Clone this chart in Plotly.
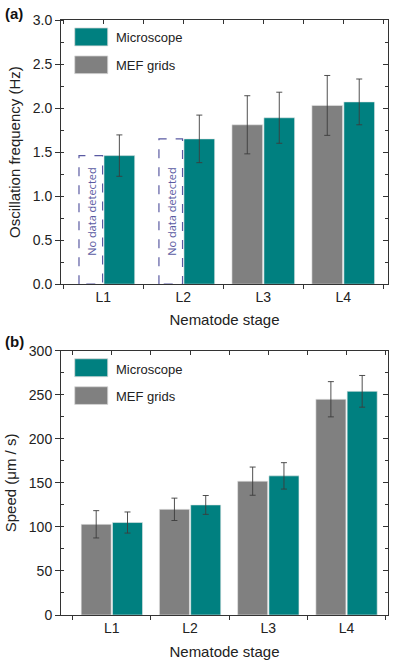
import plotly.graph_objects as go

stages = ["L1", "L2", "L3", "L4"]
xpos = [0, 1, 2, 3]

# Panel (a): oscillation frequency (Hz)
freq_micro = [1.46, 1.65, 1.89, 2.07]
freq_micro_err = [0.235, 0.27, 0.29, 0.26]
freq_mef = [None, None, 1.81, 2.03]
freq_mef_err = [0, 0, 0.33, 0.34]
nodata_height = [1.46, 1.65, None, None]
nodata_label = "No data detected"

# Panel (b): speed (um/s)
speed_micro = [105, 125, 158, 254]
speed_micro_err = [12, 10.7, 15, 18]
speed_mef = [103, 120, 152, 245]
speed_mef_err = [15.5, 12.7, 16, 20]

TEAL = "#008080"
GRAY = "#808080"
ERR = "#3c3c3c"
NODATA = "#5a5aa2"
FONT = "Liberation Sans, Arial, sans-serif"
AX = "#333333"

fig = go.Figure()

def add_bars(xa, ya, mef, mef_err, mic, mic_err):
    fig.add_trace(go.Bar(x=xpos, y=mef, name="MEF grids", marker=dict(color=GRAY, line=dict(color="#e8e8e8", width=0.6)),
                         error_y=dict(type="data", array=mef_err, color=ERR, thickness=0.9, width=3),
                         xaxis=xa, yaxis=ya, showlegend=False))
    fig.add_trace(go.Bar(x=xpos, y=mic, name="Microscope", marker=dict(color=TEAL, line=dict(color="#e8e8e8", width=0.6)),
                         error_y=dict(type="data", array=mic_err, color=ERR, thickness=0.9, width=3),
                         xaxis=xa, yaxis=ya, showlegend=False))

add_bars("x", "y", freq_mef, freq_mef_err, freq_micro, freq_micro_err)
add_bars("x2", "y2", speed_mef, speed_mef_err, speed_micro, speed_micro_err)

# dashed "no data" boxes in panel (a)
L, R = -0.305, -0.01
for i, h in zip(xpos, nodata_height):
    if h is None:
        continue
    fig.add_trace(go.Scatter(x=[i + L, i + L, i + R, i + R, i + L], y=[0, h, h, 0, 0], mode="lines",
                             line=dict(color=NODATA, width=1.2, dash="dash"), xaxis="x", yaxis="y",
                             showlegend=False, hoverinfo="skip"))
    fig.add_annotation(x=i + (L + R) / 2, y=0.83, xref="x", yref="y", text=nodata_label, textangle=-90,
                       showarrow=False, font=dict(family="Open Sans, sans-serif", size=11, color=NODATA))

# dummy traces for overlay axes (top / right ticks)
fig.add_trace(go.Scatter(x=[], y=[], xaxis="x3", yaxis="y3", showlegend=False, hoverinfo="skip"))
fig.add_trace(go.Scatter(x=[], y=[], xaxis="x4", yaxis="y4", showlegend=False, hoverinfo="skip"))

tickfont = dict(family=FONT, size=14, color="#222")
titlefont = dict(family=FONT, size=15, color="#222")

def xaxis(rng, anchor, standoff):
    return dict(range=rng, anchor=anchor, tickmode="array", tickvals=xpos, ticktext=stages, ticks="",
                showline=True, linecolor=AX, linewidth=1, showgrid=False, zeroline=False,
                tickfont=tickfont, title=dict(text="Nematode stage", font=titlefont, standoff=standoff),
                minor=dict(tickmode="array", tickvals=[-0.5, 0.5, 1.5, 2.5, 3.5], ticks="outside", ticklen=4,
                           tickcolor=AX, showgrid=False))

def yaxis(rng, dtick, mdtick, dom, anchor, title, fmt):
    return dict(range=rng, domain=dom, anchor=anchor, dtick=dtick, tick0=0, tickformat=fmt, ticks="outside",
                ticklen=5, tickcolor=AX, showline=True, linecolor=AX, linewidth=1, showgrid=False, zeroline=False,
                tickfont=tickfont, title=dict(text=title, font=titlefont, standoff=8),
                minor=dict(dtick=mdtick, ticks="inside", ticklen=3, tickcolor=AX, showgrid=False))

def top_axis(rng, over, anchor):
    return dict(range=rng, overlaying=over, anchor=anchor, side="top", showline=True, linecolor=AX, linewidth=1,
                ticks="inside", ticklen=4, tickcolor=AX, tick0=-0.5, dtick=0.5, showticklabels=False,
                showgrid=False, zeroline=False)

def right_axis(rng, over, anchor, dtick, mdtick):
    return dict(range=rng, overlaying=over, anchor=anchor, side="right", showline=True, linecolor=AX, linewidth=1,
                ticks="inside", ticklen=5, tickcolor=AX, tick0=0, dtick=dtick, showticklabels=False,
                showgrid=False, zeroline=False,
                minor=dict(dtick=mdtick, ticks="inside", ticklen=3, tickcolor=AX, showgrid=False))

xr_a = [-0.53, 3.56]
xr_b = [-0.65, 3.53]
yr_a = [0, 3]
yr_b = [0, 300]

fig.update_layout(
    width=396, height=665, margin=dict(l=61, r=8, t=20, b=46),
    paper_bgcolor="white", plot_bgcolor="white",
    barmode="group", bargap=0.2, bargroupgap=0.04,
    font=dict(family=FONT, color="#222"),
    xaxis=xaxis(xr_a, "y", 10),
    yaxis=yaxis(yr_a, 0.5, 0.25, [0.556, 1.0], "x", "Oscillation frequency (Hz)", ".1f"),
    xaxis2=xaxis(xr_b, "y2", 11),
    yaxis2=yaxis(yr_b, 50, 25, [0.0, 0.444], "x2", "Speed (\u03bcm / s)", "d"),
    xaxis3=top_axis(xr_a, "x", "y"),
    yaxis3=right_axis(yr_a, "y", "x", 0.5, 0.25),
    xaxis4=top_axis(xr_b, "x2", "y2"),
    yaxis4=right_axis(yr_b, "y2", "x2", 50, 25),
)

# legend boxes drawn in axis-domain coordinates
for xa, ya, ty in [("x", "y", [0.932, 0.827]), ("x2", "y2", [0.93, 0.826])]:
    for (name, color), y0, y1, t in zip([("Microscope", TEAL), ("MEF grids", GRAY)],
                                        [0.902, 0.797], [0.97, 0.864], ty):
        fig.add_shape(type="rect", xref=f"{xa} domain", yref=f"{ya} domain", x0=0.042, x1=0.143, y0=y0, y1=y1,
                      fillcolor=color, line=dict(color="#d8d8d8", width=0.8))
        fig.add_annotation(xref=f"{xa} domain", yref=f"{ya} domain", x=0.162, y=t, text=name, showarrow=False,
                           xanchor="left", yanchor="middle", font=dict(family=FONT, size=13, color="#222"))

for lab, y in [("(a)", 1.0117), ("(b)", 0.459)]:
    fig.add_annotation(xref="paper", yref="paper", x=-0.177, y=y, text=f"<b>{lab}</b>", showarrow=False,
                       xanchor="left", yanchor="middle", font=dict(family=FONT, size=15, color="#111"))

fig.write_html("out.html", config={"displayModeBar": False},
               post_script="document.body.style.margin='0';")
